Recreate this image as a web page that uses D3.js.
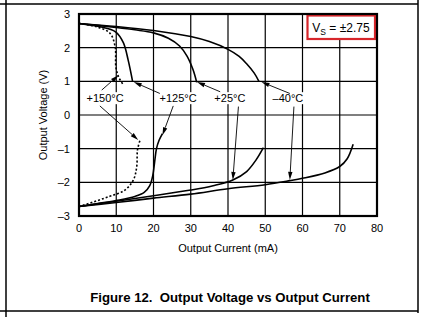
<!DOCTYPE html>
<html>
<head>
<meta charset="utf-8">
<script src="https://cdn.jsdelivr.net/npm/d3@7"></script>
<style>
  body { margin: 0; background: #fff; }
  svg { display: block; font-family: "Liberation Sans", Arial, sans-serif; }
</style>
</head>
<body>
<div id="chart"></div>
<script>
// curves: [current mA, voltage V]
var sourcing40 = [[0, 2.72], [10, 2.63], [20, 2.51], [30, 2.33], [35, 2.18], [40, 1.95], [43, 1.74], [45, 1.52], [47, 1.25], [48.3, 1.0]];
var sourcing25 = [[0, 2.72], [10, 2.6], [15, 2.53], [20, 2.44], [24, 2.28], [27, 2.05], [29, 1.75], [30.6, 1.35], [31.6, 0.97]];
var sourcing125 = [[0, 2.72], [5.6, 2.62], [9.8, 2.47], [11.9, 2.15], [13.2, 1.63], [14.4, 0.99]];
var sourcing150 = [[0, 2.72], [4.7, 2.62], [8.3, 2.43], [9.7, 2.03], [9.9, 1.43], [10.6, 1.14], [11.9, 0.89]];

var sinking40 = [[0, -2.72], [10, -2.6], [20, -2.47], [30, -2.35], [40, -2.19], [50, -2.07], [56.6, -1.95], [60, -1.88], [66, -1.72], [70, -1.53], [72, -1.3], [73.6, -0.87]];
var sinking25 = [[0, -2.72], [10, -2.56], [20, -2.4], [30, -2.23], [36, -2.1], [41.3, -1.93], [45, -1.68], [47.5, -1.34], [49.5, -0.97]];
var sinking125 = [[0, -2.72], [5, -2.63], [10, -2.54], [15, -2.42], [17.5, -2.3], [19, -2.1], [19.8, -1.8], [20.3, -1.4], [20.8, -1.0], [21.5, -0.75], [22.4, -0.55]];
var sinking150 = [[0, -2.72], [7.9, -2.43], [12.3, -2.23], [14.6, -1.93], [15.5, -1.53], [15.7, -1.04], [16.4, -0.74]];

var xTicks = [0, 10, 20, 30, 40, 50, 60, 70, 80];
var yTicks = [-3, -2, -1, 0, 1, 2, 3];

var tempLabels = ["+150°C", "+125°C", "+25°C", "–40°C"];
var labelPos = [[7.0, 0.5], [26.6, 0.5], [40.5, 0.5], [56.1, 0.5]];
// arrows: [from, to] in data units
var arrows = [
  [[6.1, 0.74], [10.6, 1.18]],
  [[5.6, 0.27], [15.9, -0.74]],
  [[21.7, 0.64], [14.7, 0.98]],
  [[25.3, 0.27], [22.4, -0.6]],
  [[37.9, 0.69], [31.7, 0.98]],
  [[42.8, 0.25], [41.3, -1.93]],
  [[56.6, 0.64], [49.0, 0.98]],
  [[57.7, 0.25], [56.6, -1.93]]
];

var ctx = { w: 425, h: 317 };

var svg = d3.select("#chart").append("svg")
  .attr("width", ctx.w)
  .attr("height", ctx.h);

// page frame lines
var frame = svg.append("g").attr("stroke", "#000").attr("stroke-width", 1.5);
frame.append("line").attr("x1", 0).attr("x2", 418).attr("y1", 4).attr("y2", 4);
frame.append("line").attr("x1", 6).attr("x2", 6).attr("y1", 0).attr("y2", 317);
frame.append("line").attr("x1", 418).attr("x2", 418).attr("y1", 0).attr("y2", 313);
frame.append("line").attr("x1", 0).attr("x2", 418).attr("y1", 311).attr("y2", 311);

var x = d3.scaleLinear().domain([0, 80]).range([79, 377]);
var y = d3.scaleLinear().domain([-3, 3]).range([216, 14]);

// grid
var grid = svg.append("g").attr("stroke", "#000").attr("stroke-width", 1.2);
grid.selectAll(".vx").data(xTicks).enter().append("line")
  .attr("x1", d => x(d)).attr("x2", d => x(d))
  .attr("y1", y(3)).attr("y2", y(-3));
grid.selectAll(".hy").data(yTicks).enter().append("line")
  .attr("x1", x(0)).attr("x2", x(80))
  .attr("y1", d => y(d)).attr("y2", d => y(d));

// V_S box
var vsBox = svg.append("g");
vsBox.append("rect")
  .attr("x", 307.5).attr("y", 15.5).attr("width", 67.5).attr("height", 23.5)
  .attr("fill", "#fff").attr("stroke", "#d7262b").attr("stroke-width", 2.2);
var vsText = vsBox.append("text")
  .attr("x", 341).attr("y", 32)
  .attr("text-anchor", "middle")
  .attr("font-size", "12px");
vsText.append("tspan").text("V");
vsText.append("tspan").attr("dy", 3).attr("font-size", "8.5px").text("S");
vsText.append("tspan").attr("dy", -3).text(" = ±2.75");

// plot border
svg.append("rect")
  .attr("x", x(0)).attr("y", y(3))
  .attr("width", x(80) - x(0)).attr("height", y(-3) - y(3))
  .attr("fill", "none").attr("stroke", "#000").attr("stroke-width", 2.2);

// tick labels
svg.append("g").selectAll("text").data(xTicks).enter().append("text")
  .attr("x", d => x(d)).attr("y", 232)
  .attr("text-anchor", "middle").attr("font-size", "11px")
  .text(d => d);
svg.append("g").selectAll("text").data(yTicks).enter().append("text")
  .attr("x", 70).attr("y", d => y(d) + 4)
  .attr("text-anchor", "end").attr("font-size", "11px")
  .text(d => d < 0 ? "–" + Math.abs(d) : d);

svg.append("text")
  .attr("x", 228).attr("y", 252)
  .attr("text-anchor", "middle").attr("font-size", "11px")
  .text("Output Current (mA)");
svg.append("text")
  .attr("transform", "translate(47," + y(0) + ") rotate(-90)")
  .attr("text-anchor", "middle").attr("font-size", "11px")
  .text("Output Voltage (V)");

svg.append("text")
  .attr("x", 230).attr("y", 302)
  .attr("text-anchor", "middle").attr("font-size", "13.2px")
  .attr("font-weight", "bold")
  .attr("xml:space", "preserve")
  .text("Figure 12.  Output Voltage vs Output Current");

// curves
var line = d3.line()
  .x(d => x(d[0]))
  .y(d => y(d[1]))
  .curve(d3.curveCatmullRom.alpha(0.5));

var curves = [
  { data: sourcing40, dash: null },
  { data: sourcing25, dash: null },
  { data: sourcing125, dash: null },
  { data: sourcing150, dash: "2,2" },
  { data: sinking40, dash: null },
  { data: sinking25, dash: null },
  { data: sinking125, dash: null },
  { data: sinking150, dash: "2,2" }
];
svg.append("g").selectAll("path").data(curves).enter().append("path")
  .attr("d", d => line(d.data))
  .attr("fill", "none")
  .attr("stroke", "#000")
  .attr("stroke-width", 1.6)
  .attr("stroke-dasharray", d => d.dash);

// temperature labels with white backing over the grid
var labelG = svg.append("g");
tempLabels.forEach(function(t, i) {
  var g = labelG.append("g");
  var txt = g.append("text")
    .attr("x", x(labelPos[i][0]))
    .attr("y", y(labelPos[i][1]) + 4)
    .attr("text-anchor", "middle").attr("font-size", "11px")
    .text(t);
  var bb = txt.node().getBBox();
  g.insert("rect", "text")
    .attr("x", bb.x - 1).attr("y", bb.y)
    .attr("width", bb.width + 2).attr("height", bb.height)
    .attr("fill", "#fff");
});

// arrows
var arrowG = svg.append("g");
arrows.forEach(function(a) {
  var x1 = x(a[0][0]), y1 = y(a[0][1]);
  var x2 = x(a[1][0]), y2 = y(a[1][1]);
  var ang = Math.atan2(y2 - y1, x2 - x1);
  var len = 8, half = 2.2;
  var bx = x2 - len * Math.cos(ang), by = y2 - len * Math.sin(ang);
  arrowG.append("line")
    .attr("x1", x1).attr("y1", y1).attr("x2", bx).attr("y2", by)
    .attr("stroke", "#000").attr("stroke-width", 0.9);
  var pts = [
    [x2, y2],
    [bx + half * Math.sin(ang), by - half * Math.cos(ang)],
    [bx - half * Math.sin(ang), by + half * Math.cos(ang)]
  ];
  arrowG.append("polygon")
    .attr("points", pts.map(p => p.join(",")).join(" "))
    .attr("fill", "#000");
});
</script>
</body>
</html>
